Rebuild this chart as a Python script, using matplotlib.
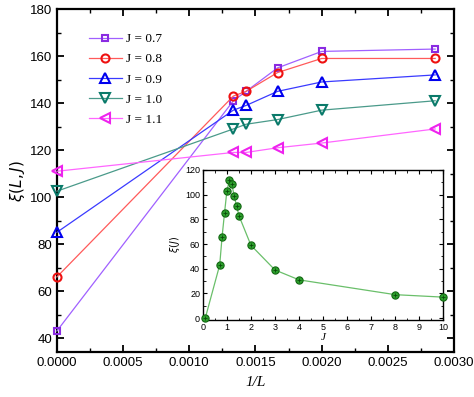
import matplotlib
matplotlib.use("Agg")
import matplotlib.pyplot as plt
from matplotlib.ticker import MultipleLocator

# Main data
inv_L = [0.0, 0.001333, 0.001429, 0.001667, 0.002, 0.002857]
xi_07 = [43, 141, 145, 155, 162, 163]
xi_08 = [66, 143, 145, 153, 159, 159]
xi_09 = [85, 137, 139, 145, 149, 152]
xi_10 = [102.5, 129, 131, 133, 137, 141]
xi_11 = [111, 119, 119, 121, 123, 129]
labels = ["J = 0.7", "J = 0.8", "J = 0.9", "J = 1.0", "J = 1.1"]

# Inset data
J_vals = [0.1, 0.7, 0.8, 0.9, 1.0, 1.1, 1.2, 1.3, 1.4, 1.5, 2, 3, 4, 8, 10]
xi_J = [0, 43, 66, 85, 103, 111.5, 109, 99, 91, 83, 59, 39, 31, 19, 17]

plt.rcParams['font.family'] = ['Liberation Sans', 'DejaVu Sans']

fig = plt.figure(figsize=(4.74, 3.97), dpi=100)
ax = fig.add_axes([0.120, 0.113, 0.838, 0.864])

series = [xi_07, xi_08, xi_09, xi_10, xi_11]
mcolors = ['#8a2be2', '#ee1111', '#0000ee', '#0a7a6a', '#ee22ee']
lcolors = ['#a060ff', '#ff5a5a', '#3a3aff', '#4a9a8a', '#ff66ff']
markers = ['s', 'o', '^', 'v', '<']
msizes = [5, 5.8, 6.5, 6.5, 6.5]
for ys, mc, lc, m, ms, lab in zip(series, mcolors, lcolors, markers, msizes, labels):
    ax.plot(inv_L, ys, color=lc, lw=0.9, marker=m, ms=ms, mfc='none',
            mec=mc, mew=1.5, label=lab, clip_on=False, zorder=3)

ax.set_xlim(0, 0.003)
ax.set_ylim(34, 180)
ax.xaxis.set_major_locator(MultipleLocator(0.0005))
ax.xaxis.set_minor_locator(MultipleLocator(0.00025))
ax.yaxis.set_major_locator(MultipleLocator(20))
ax.yaxis.set_minor_locator(MultipleLocator(10))
ax.xaxis.set_major_formatter(matplotlib.ticker.FormatStrFormatter('%.4f'))
ax.tick_params(which='both', direction='in', top=True, right=True, labelsize=9.5)
ax.tick_params(which='major', length=5, width=1.3)
ax.tick_params(which='minor', length=3, width=1.0)
for s in ax.spines.values():
    s.set_linewidth(1.6)

ax.set_xlabel('1/L', fontsize=11, family=['Liberation Serif', 'DejaVu Serif'],
              style='italic', labelpad=5)
ax.set_ylabel(r'$\xi(L,J)$', fontsize=11, labelpad=2)

leg = ax.legend(loc='upper left', bbox_to_anchor=(0.05, 0.965), frameon=False,
                prop={'family': 'Liberation Serif', 'size': 9.5},
                handlelength=2.5, labelspacing=0.6, handletextpad=0.3)

# Inset
axi = fig.add_axes([0.428, 0.194, 0.507, 0.378])
axi.plot(J_vals, xi_J, color='#6abf6a', lw=0.9, marker='o', ms=5.2,
         mfc='#2ca02c', mec='#116611', mew=0.8, clip_on=False, zorder=3)
axi.plot(J_vals, xi_J, ls='none', marker='+', ms=3.5, mec='#0a4a0a', mew=0.6,
         clip_on=False, zorder=4)
axi.set_xlim(0, 10)
axi.set_ylim(-1.5, 120)
axi.xaxis.set_major_locator(MultipleLocator(1))
axi.xaxis.set_minor_locator(MultipleLocator(0.5))
axi.yaxis.set_major_locator(MultipleLocator(20))
axi.yaxis.set_minor_locator(MultipleLocator(10))
axi.tick_params(which='both', direction='in', top=True, right=True, labelsize=6.5, pad=2)
axi.tick_params(which='major', length=3, width=0.8)
axi.tick_params(which='minor', length=1.8, width=0.6)
for s in axi.spines.values():
    s.set_linewidth(1.0)
axi.set_xlabel('J', fontsize=8, family=['Liberation Serif', 'DejaVu Serif'],
               style='italic', labelpad=1)
axi.set_ylabel(r'$\xi(J)$', fontsize=7, labelpad=2)

fig.savefig('out.png', dpi=100)
